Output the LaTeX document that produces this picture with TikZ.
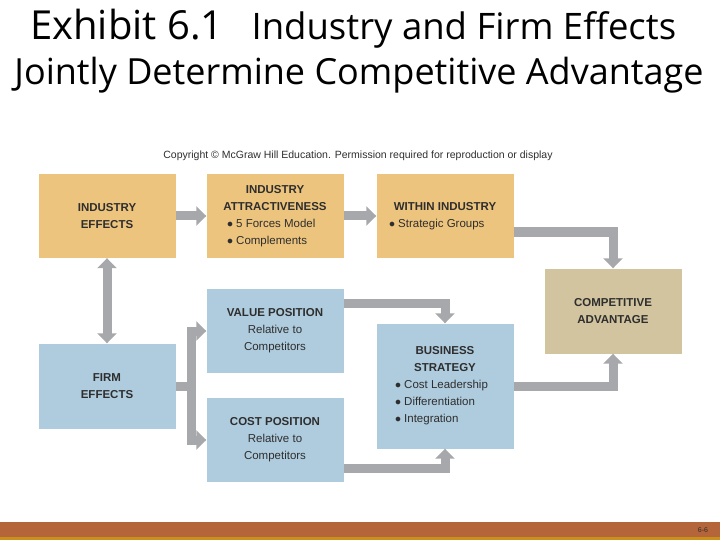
\documentclass[tikz,border=0pt]{standalone}
\usepackage{fontspec}
\setmainfont{Liberation Sans}
\newfontfamily\titlefont{Open Sans}
\usetikzlibrary{arrows.meta}
\definecolor{orng}{HTML}{EDC47E}
\definecolor{blu}{HTML}{AFCCDE}
\definecolor{tan}{HTML}{D2C49F}
\definecolor{arr}{HTML}{A6A8AB}
\definecolor{txt}{HTML}{2E2E2E}
\definecolor{bar}{HTML}{B4653A}
\definecolor{strip}{HTML}{C9911C}
\tikzset{
 box/.style={draw=none,inner sep=0pt,minimum width=137pt,align=center,text=txt,font=\fontsize{11.5}{17}\selectfont},
 flow/.style={draw=arr,line width=9pt,-{Triangle[width=19pt,length=10pt]}},
 flow2/.style={draw=arr,line width=9pt,{Triangle[width=19pt,length=10pt]}-{Triangle[width=19pt,length=10pt]}},
}
\newcommand{\hd}[1]{\textbf{#1}}
\newcommand{\bl}[2]{\makebox[#1][l]{$\bullet$\ #2}}
\begin{document}
\begin{tikzpicture}[x=1pt,y=-1pt]
\useasboundingbox (0,0) rectangle (720,540);
\fill[bar] (0,522) rectangle (720,537);
\fill[strip] (0,537) rectangle (720,540);
\node[font=\fontsize{7}{8}\selectfont,text=txt] (pg) at (703,530) {6-6};
\node[anchor=base west,font=\titlefont,inner sep=0pt] (t1) at (30,40) {{\fontsize{40}{46}\selectfont Exhibit 6.1}\hspace{28pt}{\fontsize{36.5}{40}\selectfont Industry and Firm Effects}};
\node[anchor=base,font=\titlefont\fontsize{36}{40}\selectfont,inner sep=0pt] (t2) at (359,85) {Jointly Determine Competitive Advantage};
\node[font=\fontsize{10.5}{12}\selectfont,text=txt] (cp) at (358,156) {Copyright \textcopyright{} McGraw Hill Education. Permission required for reproduction or display};

\node[box,fill=orng,minimum height=84pt] (ie) at (107,216) {\hd{INDUSTRY}\\\hd{EFFECTS}};
\node[box,fill=orng,minimum height=84pt] (ia) at (275,216) {\hd{INDUSTRY}\\\hd{ATTRACTIVENESS}\\\bl{96pt}{5 Forces Model}\\\bl{96pt}{Complements}};
\node[box,fill=orng,minimum height=84pt] (wi) at (445,216) {\hd{WITHIN INDUSTRY}\\\bl{112pt}{Strategic Groups}};
\node[box,fill=tan,minimum height=85pt] (ca) at (613,311) {\hd{COMPETITIVE}\\\hd{ADVANTAGE}};
\node[box,fill=blu,minimum height=84pt] (vp) at (275,331) {\hd{VALUE POSITION}\\Relative to\\Competitors};
\node[box,fill=blu,minimum height=84pt] (cpos) at (275,440) {\hd{COST POSITION}\\Relative to\\Competitors};
\node[box,fill=blu,minimum height=125pt] (bs) at (445,386) {\hd{BUSINESS}\\\hd{STRATEGY}\\\bl{100pt}{Cost Leadership}\\\bl{100pt}{Differentiation}\\\bl{100pt}{Integration}};
\node[box,fill=blu,minimum height=85pt] (fe) at (107,386) {\hd{FIRM}\\\hd{EFFECTS}};

\coordinate (split) at (191,386);
\draw[flow] (ie.east) -- (ia.west);
\draw[flow] (ia.east) -- (wi.west);
\draw[flow] (wi.east |- 0,232) -| (ca.north);
\draw[flow] (bs.east) -| (ca.south);
\draw[flow2] (ie.south) -- (fe.north);
\draw[draw=arr,line width=9pt] (fe.east) -- (split);
\draw[flow] (split) |- (vp.west |- 0,331);
\draw[flow] (split) |- (cpos.west |- 0,440);
\draw[flow] (vp.east |- 0,303) -| (bs.north);
\draw[flow] (cpos.east |- 0,468) -| (bs.south);
\end{tikzpicture}
\end{document}
